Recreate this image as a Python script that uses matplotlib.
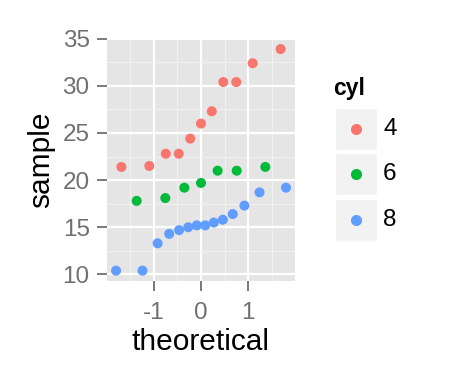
import matplotlib
matplotlib.use("Agg")
import matplotlib.pyplot as plt
from matplotlib.patches import Rectangle
from matplotlib.lines import Line2D

plt.rcParams['font.family'] = ['Liberation Sans', 'DejaVu Sans']
plt.rcParams['axes.unicode_minus'] = False

groups = ["4", "6", "8"]
colors = ["#F8766D", "#00BA38", "#619CFF"]

theo_4 = [-1.690, -1.097, -0.748, -0.473, -0.229, 0.0, 0.229, 0.473, 0.748, 1.097, 1.690]
samp_4 = [21.4, 21.5, 22.8, 22.8, 24.4, 26.0, 27.3, 30.4, 30.4, 32.4, 33.9]

theo_6 = [-1.365, -0.758, -0.353, 0.0, 0.353, 0.758, 1.365]
samp_6 = [17.8, 18.1, 19.2, 19.7, 21.0, 21.0, 21.4]

theo_8 = [-1.803, -1.242, -0.921, -0.674, -0.464, -0.272, -0.0896,
          0.0896, 0.272, 0.464, 0.674, 0.921, 1.242, 1.803]
samp_8 = [10.4, 10.4, 13.3, 14.3, 14.7, 15.0, 15.2, 15.2, 15.5, 15.8, 16.4, 17.3, 18.7, 19.2]

xticks = [-1, 0, 1]
yticks = [10, 15, 20, 25, 30, 35]

W, H = 474, 379
fig = plt.figure(figsize=(W / 100, H / 100), dpi=100)
ax = fig.add_axes([107 / W, 1 - 281 / H, (295 - 107) / W, (281 - 38) / H])
ax.set_facecolor("#E5E5E5")

for th, sa, c in zip([theo_4, theo_6, theo_8], [samp_4, samp_6, samp_8], colors):
    ax.scatter(th, sa, s=52, color=c, edgecolors="none", zorder=3)

ax.set_xlim(-1.995, 1.995)
ax.set_ylim(9.3, 35.075)
ax.set_xticks(xticks)
ax.set_yticks(yticks)
ax.set_xticks([-1.5, -0.5, 0.5, 1.5], minor=True)
ax.set_yticks([12.5, 17.5, 22.5, 27.5, 32.5], minor=True)
ax.grid(which="major", color="white", linewidth=1.6, zorder=1)
ax.grid(which="minor", color="#F2F2F2", linewidth=0.7, zorder=1)
ax.set_axisbelow(True)
for s in ax.spines.values():
    s.set_visible(False)
ax.tick_params(which="major", length=7, width=1.3, color="#6E6E6E",
               labelcolor="#707070", labelsize=17.5)
ax.tick_params(axis="y", pad=5.5)
ax.tick_params(axis="x", pad=8)
ax.tick_params(which="minor", length=0)

ax.set_xlabel("theoretical", fontsize=21.5, labelpad=3)
ax.set_ylabel("sample", fontsize=21.5, labelpad=5)

# legend
fig.text(333 / W, 1 - 89 / H, "cyl", fontsize=16.5, fontweight="bold",
         ha="left", va="center")
key_tops = [108, 153, 199]
for top, c, lab in zip(key_tops, colors, groups):
    fig.add_artist(Rectangle((335 / W, 1 - (top + 42) / H), 42 / W, 42 / H,
                             transform=fig.transFigure, facecolor="#F2F2F2",
                             edgecolor="white", linewidth=1))
    fig.add_artist(Line2D([356 / W], [1 - (top + 21) / H], marker="o",
                          markersize=8, color=c, markeredgewidth=0,
                          transform=fig.transFigure))
    fig.text(383 / W, 1 - (top + 21) / H, lab, fontsize=17.5, ha="left", va="center")

fig.savefig("out.png", dpi=100)
